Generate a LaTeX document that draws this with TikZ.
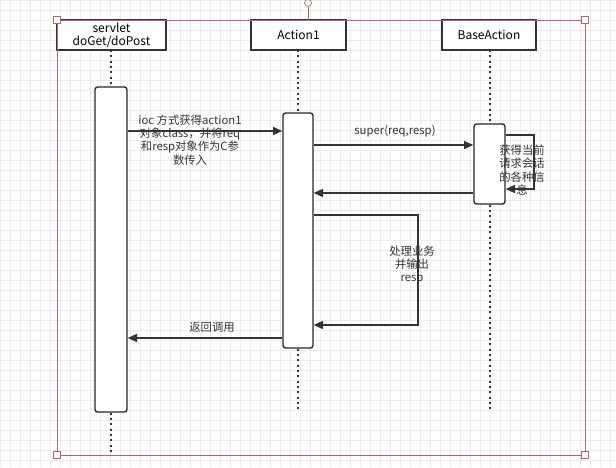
\documentclass[tikz,border=0pt]{standalone}
\usepackage{fontspec}
\setmainfont{Noto Sans CJK SC}
\usetikzlibrary{arrows.meta,positioning}
\tikzset{
  head/.style={draw=black!80, line width=1.2pt, fill=white, font=\fontsize{9}{10}\selectfont, align=center, inner sep=0pt},
  act/.style={draw=black!85, line width=1pt, fill=white, rounded corners=2pt},
  life/.style={black!80, line width=1.5pt, dash pattern=on 1.5pt off 2.5pt},
  msg/.style={-{Triangle[length=7pt,width=6pt]}, line width=1.2pt, black!80},
  lbl/.style={font=\fontsize{8.5}{10}\selectfont, align=center, text=black!80, inner sep=1pt},
  sel/.style={draw=red!50!black!60, line width=0.5pt}
}
\begin{document}
\begin{tikzpicture}[x=0.75pt,y=-0.75pt]
    % background and grid
    \useasboundingbox (0,0) rectangle (616,467);
    \fill[white] (0,0) rectangle (616,467);
    \foreach \i in {0,10,...,610} \draw[black!8] (\i,0) -- (\i,467);
    \foreach \j in {0,10,...,460} \draw[black!8] (0,\j) -- (616,\j);

    % lifelines
    \coordinate (s0) at (111,50);  \coordinate (s1) at (111,455);
    \coordinate (a0) at (298,50);  \coordinate (a1) at (298,410);
    \coordinate (b0) at (490,50);  \coordinate (b1) at (490,410);
    \draw[life] (s0) -- (s1);
    \draw[life] (a0) -- (a1);
    \draw[life] (b0) -- (b1);

    % heads
    \node[head, minimum width=109*0.75pt, minimum height=30*0.75pt] (servlet) at (111.5,35) {servlet\\doGet/doPost};
    \node[head, minimum width=95*0.75pt, minimum height=30*0.75pt] (action) at (298.5,35) {Action1};
    \node[head, minimum width=94*0.75pt, minimum height=30*0.75pt] (base) at (489,35) {BaseAction};

    % activations
    \node[act, minimum width=32*0.75pt, minimum height=325*0.75pt, inner sep=0pt] (sact) at (111,249.5) {};
    \node[act, minimum width=30*0.75pt, minimum height=235*0.75pt, inner sep=0pt] (aact) at (298,230.5) {};
    \node[act, minimum width=31*0.75pt, minimum height=80*0.75pt, inner sep=0pt] (bact) at (489.5,164) {};

    % messages
    \draw[msg] (sact.east |- 0,131) -- (aact.west |- 0,131);
    \node[lbl] (m1) at (190,140) {ioc 方式获得action1\\对象class，并将req\\和resp对象作为C参\\数传入};
    \draw[msg] (aact.east |- 0,145) -- (bact.west |- 0,145);
    \node[lbl] (m2) at (395,131) {super(req,resp)};
    \coordinate (l1) at (534,135);
    \coordinate (l2) at (534,189);
    \draw[msg] (bact.east |- 0,135) -- (l1) -- (l2) -- (bact.east |- 0,189);
    \node[lbl] (m3) at (522,170) {获得当前\\请求会话\\的各种信\\息};
    \draw[msg] (bact.west |- 0,193) -- (aact.east |- 0,193);
    \coordinate (l3) at (418,215);
    \coordinate (l4) at (418,325);
    \draw[msg] (aact.east |- 0,215) -- (l3) -- (l4) -- (aact.east |- 0,325);
    \node[lbl] (m4) at (412,265) {处理业务\\并输出\\resp};
    \draw[msg] (aact.west |- 0,338) -- (sact.east |- 0,338);
    \node[lbl] (m5) at (212,327) {返回调用};

    % selection frame
    \draw[sel] (57,20) rectangle (585,455);
    \coordinate (top) at (308,20);
    \node[sel, circle, fill=white, minimum size=7*0.75pt, inner sep=0pt] (rot) at (308,3) {};
    \draw[sel] (rot) -- (top);
    \foreach \p in {(57,20),(585,20),(57,455),(585,455)}
      \draw[sel, fill=white] \p ++(-3.5,-3.5) rectangle ++(7,7);
\end{tikzpicture}
\end{document}
